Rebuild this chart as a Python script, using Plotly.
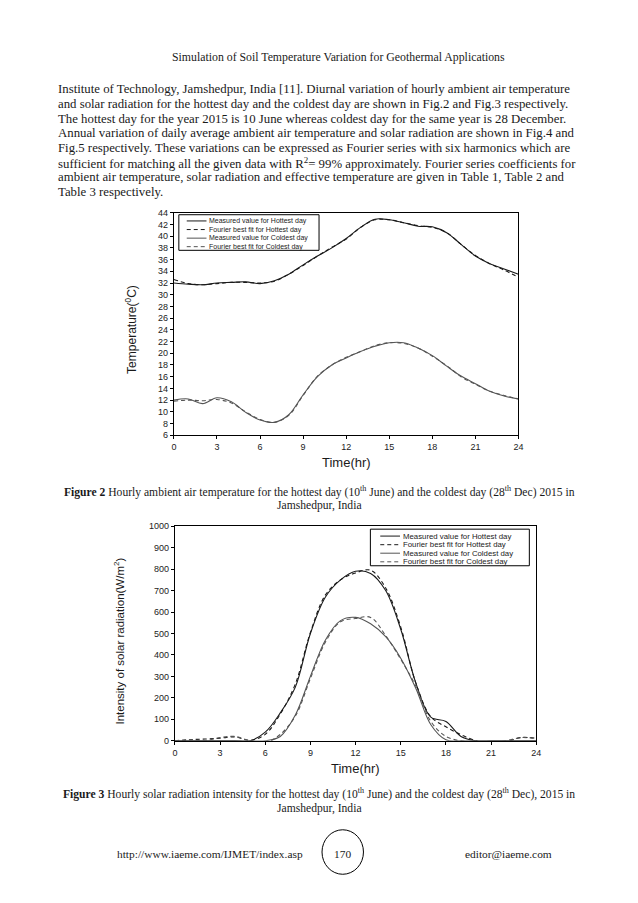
import plotly.graph_objects as go

# the page body has an 8px margin, so the figure is drawn 8px in and sized to fit
OFF = 8
W, H = 638 - OFF, 903 - OFF


def px(x):
    return (x - OFF) / W


def py(y):
    return 1 - (y - OFF) / H


# ---- data ----
hours = list(range(25))

# Fig 2: ambient air temperature (deg C)
temp_hot_measured = [32.0, 31.8, 31.7, 32.0, 32.1, 32.2, 31.9, 32.4, 33.5, 35.1, 36.6, 38.0, 39.6,
                     41.5, 42.9, 42.8, 42.3, 41.7, 41.6, 40.6, 38.6, 36.6, 35.3, 34.4, 33.5]
temp_hot_fit = [32.6, 31.9, 31.7, 31.9, 32.1, 32.1, 32.0, 32.3, 33.5, 35.0, 36.6, 38.1, 39.5,
                41.5, 42.8, 42.8, 42.3, 41.8, 41.5, 40.6, 38.6, 36.7, 35.3, 34.2, 33.0]
temp_cold_measured = [12.0, 12.2, 11.4, 12.4, 11.7, 9.9, 8.6, 8.2, 9.5, 12.9, 16.0, 18.0, 19.2,
                      20.3, 21.2, 21.8, 21.8, 20.9, 19.6, 17.8, 16.1, 14.8, 13.5, 12.7, 12.2]
temp_cold_fit = [11.8, 12.0, 11.9, 12.1, 11.5, 10.0, 8.7, 8.2, 9.4, 12.8, 16.1, 18.0, 19.3,
                 20.3, 21.3, 21.8, 21.7, 20.9, 19.5, 17.9, 16.0, 14.7, 13.5, 12.8, 12.2]

# Fig 3: solar radiation (W/m2)
sol_hot_measured = [0, 0, 0, 0, 0, 0, 40, 130, 250, 500, 670, 750, 790,
                    780, 700, 520, 270, 110, 90, 20, 0, 0, 0, 0, 0]
sol_hot_fit = [-5, 5, 8, 12, 18, 2, 30, 125, 265, 505, 680, 750, 782,
               795, 712, 530, 270, 112, 65, 28, 0, -15, -5, 15, 12]
sol_cold_measured = [0, 0, 0, 0, 0, 0, 0, 20, 120, 300, 470, 560, 575,
                     545, 485, 385, 245, 75, 5, 0, 0, 0, 0, 0, 0]
sol_cold_fit = [0, 5, 0, 15, 20, 0, -10, 30, 115, 290, 460, 555, 570,
                575, 490, 380, 255, 90, 20, 0, -5, -10, 0, 15, 10]

x_ticks = list(range(0, 25, 3))

series_names = ["Measured value for Hottest day", "Fourier best fit for Hottest day",
                "Measured value for Coldest day", "Fourier best fit for Coldest day"]
styles = [("#1a1a1a", "solid"), ("#1a1a1a", "4px,3px"),
          ("#555555", "solid"), ("#555555", "4px,3px")]

body_lines = [
    "Institute of Technology, Jamshedpur, India [11]. Diurnal variation of hourly ambient air temperature",
    "and solar radiation for the hottest day and the coldest day are shown in Fig.2 and Fig.3 respectively.",
    "The hottest day for the year 2015 is 10 June whereas coldest day for the same year is 28 December.",
    "Annual variation of daily average ambient air temperature and solar radiation are shown in Fig.4 and",
    "Fig.5 respectively. These variations can be expressed as Fourier series with six harmonics which are",
    "sufficient for matching all the given data with R<sup>2</sup>= 99% approximately. Fourier series coefficients for",
    "ambient air temperature, solar radiation and effective temperature are given in Table 1, Table 2 and",
    "Table 3 respectively.",
]

serif = "Liberation Serif, Times New Roman, serif"
sans = "Liberation Sans, Arial, sans-serif"

fig = go.Figure()

temp_series = [temp_hot_measured, temp_hot_fit, temp_cold_measured, temp_cold_fit]
sol_series = [sol_hot_measured, sol_hot_fit, sol_cold_measured, sol_cold_fit]

for name, vals, (color, dash) in zip(series_names, temp_series, styles):
    fig.add_trace(go.Scatter(x=hours, y=vals, name=name, mode="lines", line_shape="spline",
                             line=dict(color=color, width=1.1, dash=dash),
                             xaxis="x", yaxis="y", showlegend=False))

for name, vals, (color, dash) in zip(series_names, sol_series, styles):
    fig.add_trace(go.Scatter(x=hours, y=vals, name=name, mode="lines", line_shape="spline",
                             line=dict(color=color, width=1.1, dash=dash),
                             xaxis="x2", yaxis="y2", showlegend=False))

axis_common = dict(showline=True, linecolor="black", linewidth=1, mirror=True,
                   ticks="outside", ticklen=3, tickcolor="black", showgrid=False,
                   zeroline=False, tickfont=dict(family=sans, size=9, color="#222"),
                   fixedrange=True)

fig.update_layout(
    width=W, height=H,
    margin=dict(l=0, r=0, t=0, b=0),
    paper_bgcolor="white", plot_bgcolor="white",
    showlegend=False,
    xaxis=dict(domain=[px(173), px(522)], range=[0, 24], tickvals=x_ticks, anchor="y", **axis_common),
    yaxis=dict(domain=[py(435), py(210)], range=[6, 44], tick0=6, dtick=2, anchor="x", **axis_common),
    xaxis2=dict(domain=[px(174), px(540)], range=[0, 24], tickvals=x_ticks, anchor="y2", **axis_common),
    yaxis2=dict(domain=[py(744), py(527)], range=[0, 1000], tick0=0, dtick=100, anchor="x2", **axis_common),
)


def note(x, y, text, size, family=serif, xanchor="center", angle=0, color="#1a1a1a"):
    fig.add_annotation(x=px(x), y=py(y), xref="paper", yref="paper", text=text,
                       showarrow=False, xanchor=xanchor, yanchor="middle", textangle=angle,
                       font=dict(family=family, size=size, color=color))


# legends drawn as boxes inside the plots
def draw_legend(x0, x1, y0, y1, ys, sx0, sx1, tx, size):
    fig.add_shape(type="rect", xref="paper", yref="paper", x0=px(x0), x1=px(x1),
                  y0=py(y1), y1=py(y0), line=dict(color="black", width=1), fillcolor="white")
    for name, (color, dash), y in zip(series_names, styles, ys):
        fig.add_shape(type="line", xref="paper", yref="paper", x0=px(sx0), x1=px(sx1),
                      y0=py(y), y1=py(y), line=dict(color=color, width=1, dash=dash))
        note(tx, y, name, size, family=sans, xanchor="left", color="#222")


draw_legend(178, 320, 212, 248, [218.3, 227, 235.7, 244.3], 186, 206, 207, 7)
draw_legend(372, 533, 530, 567, [537, 545.7, 554.3, 563], 382, 402, 403, 7.8)

# axis titles
note(347.5, 463, "Time(hr)", 13, family=sans)
note(130, 328, "Temperature(<sup>0</sup>C)", 12, family=sans, angle=-90)
note(357, 772, "Time(hr)", 13, family=sans)
note(117, 643, "Intensity of solar radiation(W/m<sup>2</sup>)", 11.5, family=sans, angle=-90)

# page text
note(340, 53, "Simulation of Soil Temperature Variation for Geothermal Applications", 11.8)
for i, line in enumerate(body_lines):
    note(54, 85 + i * 14.85, line, 12.8, xanchor="left")

note(320, 492, "<b>Figure 2</b> Hourly ambient air temperature for the hottest day (10<sup>th</sup> June) "
               "and the coldest day (28<sup>th</sup> Dec) 2015 in", 11.6)
note(320, 506, "Jamshedpur, India", 11.6)
note(320, 797, "<b>Figure 3</b> Hourly solar radiation intensity for the hottest day (10<sup>th</sup> June) "
               "and the coldest day (28<sup>th</sup> Dec), 2015 in", 11.6)
note(320, 812, "Jamshedpur, India", 11.6)

# footer
note(210, 858, "http://www.iaeme.com/IJMET/index.asp", 11.4)
fig.add_shape(type="circle", xref="paper", yref="paper", x0=px(323), x1=px(365),
              y0=py(879), y1=py(834), line=dict(color="black", width=1))
note(344, 858, "170", 11.4)
note(512, 858, "editor@iaeme.com", 11.4)

fig.write_html("out.html")
